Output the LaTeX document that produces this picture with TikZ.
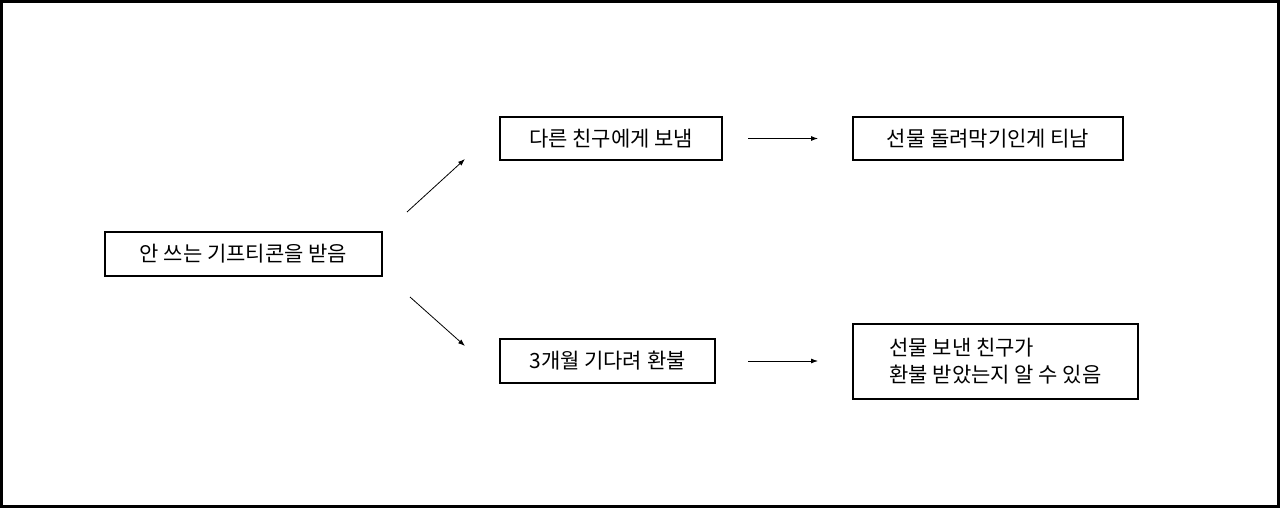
\documentclass[tikz,border=0pt]{standalone}
\usepackage{fontspec}
\setmainfont{Noto Sans CJK KR}
\usetikzlibrary{arrows.meta}
\begin{document}
\begin{tikzpicture}[x=1pt,y=-1pt,
  box/.style={draw=black,line width=2.5pt,inner sep=0pt,font=\fontsize{21}{27}\selectfont,align=left},
  arr/.style={-{Latex[length=7pt,width=5pt]},line width=0.8pt}]
\draw[line width=3pt] (1.5,1.5) rectangle (1278.5,506.5);
\node[box,minimum width=277,minimum height=44] (a) at (243.5,254) {안 쓰는 기프티콘을 받음};
\node[box,minimum width=222,minimum height=43] (b) at (611,138.5) {다른 친구에게 보냄};
\node[box,minimum width=270,minimum height=43] (c) at (988,138.5) {선물 돌려막기인게 티남};
\node[box,minimum width=215,minimum height=44] (d) at (607.5,361) {3개월 기다려 환불};
\node[box,minimum width=285,minimum height=75] (e) at (995.5,361.5) {선물 보낸 친구가\\환불 받았는지 알 수 있음};
\coordinate (a1) at (407,212); \coordinate (b1) at (465,159);
\coordinate (a2) at (410,297); \coordinate (d1) at (465,346);
\coordinate (b2) at (748,138.5); \coordinate (c1) at (818,138.5);
\coordinate (d2) at (748,361); \coordinate (e1) at (818,361);
\draw[arr] (a1) -- (b1);
\draw[arr] (a2) -- (d1);
\draw[arr] (b2) -- (c1);
\draw[arr] (d2) -- (e1);
\end{tikzpicture}
\end{document}
